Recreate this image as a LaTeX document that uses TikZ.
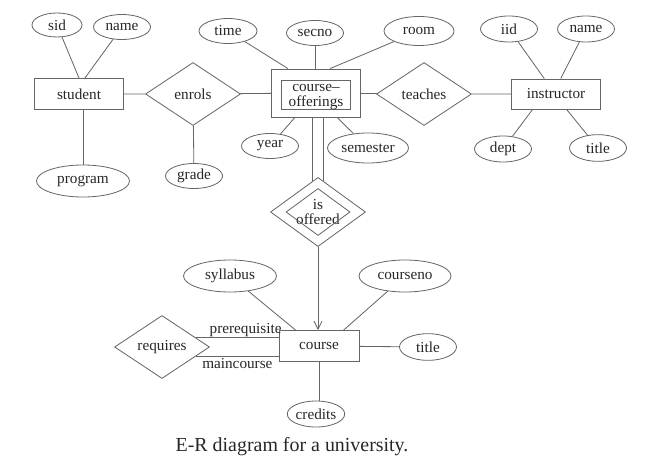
\documentclass[tikz,border=0pt]{standalone}
\usepackage{fontspec}
\setmainfont{Liberation Serif}
\usetikzlibrary{shapes.geometric,arrows.meta}
\tikzset{%
  >={Straight Barb[length=7pt,width=7pt]}, % open arrow tip
  every node/.style={font=\fontsize{13}{13}\selectfont,text=black!85},
  entity/.style={draw,rectangle,inner sep=0pt,
    minimum width=2.67cm,minimum height=0.93cm},
  relation/.style={draw,diamond,inner sep=0pt,
    minimum width=2.85cm,minimum height=1.89cm},
  attrib/.style={draw,ellipse,inner sep=0pt,
    minimum width=1.71cm,minimum height=0.75cm}%
}

\begin{document}
\begin{tikzpicture}[x=0.03cm,y=-0.03cm,color=black!60,line width=0.7pt] % ER

%% picture frame

\useasboundingbox (0,0) rectangle (654,457);

%% student and enrols

\node[entity] (student) at (79,94) {student};
\node[attrib,minimum width=1.5cm,minimum height=0.72cm] (sid) at (57,25) {sid};
\node[attrib] (sname) at (122,27) {name};
\node[attrib,minimum width=2.79cm,minimum height=0.96cm] (program) at (83,181) {program};
\node[relation] (enrols) at (193,94) {enrols};
\node[attrib] (grade) at (194,176) {grade};

%% course offerings (weak entity)

\node[entity,minimum height=1.44cm] (coffer) at (316,93) {};
\node[draw,rectangle,inner sep=0pt,minimum width=2.07cm,minimum height=0.87cm]
  (cofferin) at (316,95) {};
\node[inner sep=0pt,align=center] (coffertext) at (316,97) {course--\\offerings};
\node[attrib,minimum width=1.74cm] (time) at (228,31) {time};
\node[attrib] (secno) at (315,33) {secno};
\node[attrib,minimum width=2.1cm,minimum height=0.87cm] (room) at (419,31) {room};
\node[attrib] (year) at (270,146) {year};
\node[attrib,minimum width=2.43cm,minimum height=0.9cm] (semester) at (368,148) {semester};

%% instructor and teaches

\node[relation] (teaches) at (424,94) {teaches};
\node[entity,minimum height=0.9cm] (instructor) at (556,94) {instructor};
\node[attrib,minimum height=0.78cm] (iid) at (509,29) {iid};
\node[attrib,minimum height=0.78cm] (iname) at (586,29) {name};
\node[attrib,minimum height=0.78cm] (dept) at (503,149) {dept};
\node[attrib,minimum height=0.8cm] (ititle) at (598,148) {title};

%% is offered (identifying relationship)

\node[relation,align=center] (isoff) at (318,212) {is\\offered};
\node[draw,diamond,inner sep=0pt,minimum width=1.92cm,minimum height=1.41cm]
  (isoffin) at (isoff) {};

%% course and requires

\node[entity,minimum width=2.4cm] (course) at (319,346) {course};
\node[attrib,minimum width=2.79cm,minimum height=0.96cm] (syllabus) at (230,276) {syllabus};
\node[attrib,minimum width=2.76cm,minimum height=0.96cm] (courseno) at (405,276) {courseno};
\node[attrib,minimum height=0.8cm] (ctitle) at (428,347) {title};
\node[attrib,minimum height=0.78cm] (credits) at (316,414) {credits};
\node[relation] (requires) at (162,347) {requires};

%% connectors

\draw (sid) -- (student.north);
\draw (sname) -- ([xshift=5pt]student.north);
\draw (program) -- (program |- student.south);
\draw (student) -- (enrols) -- (coffer);
\draw (enrols) -- (grade);

\draw (time) -- ([xshift=-24pt]coffer.north);
\draw (secno) -- (secno |- coffer.north);
\draw (room) -- ([xshift=12pt]coffer.north);
\draw (year) -- ([xshift=-18pt]coffer.south);
\draw (semester) -- ([xshift=18pt]coffer.south);
\draw (coffer) -- (teaches) -- (instructor);

\draw (iid) -- ([xshift=-10pt]instructor.north);
\draw (iname) -- ([xshift=4pt]instructor.north);
\draw (dept) -- ([xshift=-20pt]instructor.south);
\draw (ititle) -- ([xshift=9pt]instructor.south);

% total participation: double line
\foreach \a in {80,100}
  \draw (isoff.\a) -- (isoff.\a |- coffer.south);
\draw[->] (isoff.south) -- (isoff.south |- course.north);

\draw (syllabus) -- ([xshift=-20pt]course.north);
\draw (courseno) -- ([xshift=21pt]course.north);
\draw (course) -- (ctitle);
\draw (course.south) -- (course.south |- credits.north);

% roles of requires
\draw (requires.15) -- (requires.15 -| course.west)
  node[pos=0.6,above=1pt,inner sep=0pt] (prereq) {prerequisite};
\draw (requires.-15) -- (requires.-15 -| course.west)
  node[midway,below=2pt,inner sep=0pt] (maincourse) {maincourse};

%% caption

\node[font=\fontsize{17}{17}\selectfont,anchor=base] (caption) at (292,451)
  {E-R diagram for a university.};

\end{tikzpicture}
\end{document}
